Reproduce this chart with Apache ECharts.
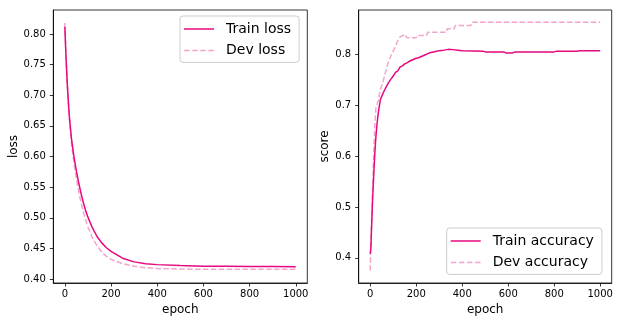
<!DOCTYPE html>
<html>
<head>
<meta charset="utf-8">
<script src="https://cdn.jsdelivr.net/npm/echarts@6/dist/echarts.min.js"></script>
<style>html,body{margin:0;padding:0;background:#fff;}#c{width:622px;height:323px;}</style>
</head>
<body>
<div id="c"></div>
<script>
// ---- data ----
const lossEpochs = [0,5,10,15,20,30,40,50,60,70,80,90,100,120,140,160,180,200,250,300,350,400,500,600,700,800,900,1000];
const trainLoss  = [0.812,0.762,0.722,0.690,0.663,0.625,0.598,0.576,0.557,0.540,0.525,0.512,0.501,0.483,0.469,0.459,0.451,0.445,0.434,0.428,0.425,0.4235,0.422,0.421,0.4207,0.4205,0.4203,0.4202];
const devLoss    = [0.818,0.765,0.722,0.688,0.660,0.617,0.588,0.564,0.543,0.525,0.510,0.497,0.485,0.467,0.454,0.444,0.437,0.432,0.425,0.421,0.4185,0.417,0.4163,0.416,0.416,0.416,0.416,0.416];

const trainAccEpochs = [0,3,6,10,15,20,25,30,35,40,45,50,60,70,80,90,100,110,120,130,140,150,160,170,180,190,200,210,220,230,240,250,260,270,280,290,300,320,340,360,380,400,450,490,500,580,590,620,630,800,810,900,910,1000];
const trainAcc       = [0.408,0.42,0.46,0.51,0.56,0.605,0.64,0.665,0.685,0.70,0.713,0.718,0.728,0.737,0.745,0.752,0.758,0.765,0.768,0.776,0.778,0.782,0.784,0.787,0.789,0.791,0.793,0.794,0.796,0.798,0.800,0.802,0.804,0.805,0.806,0.807,0.808,0.809,0.8105,0.810,0.809,0.808,0.8075,0.807,0.8055,0.8055,0.8035,0.8035,0.8055,0.8055,0.807,0.807,0.808,0.808];

const devAccEpochs = [0,2,5,10,15,20,25,35,43,55,65,75,87,98,109,120,130,152,158,200,205,245,250,330,335,365,370,438,442,1000];
const devAcc       = [0.375,0.41,0.46,0.53,0.60,0.66,0.695,0.71,0.73,0.745,0.763,0.78,0.795,0.805,0.815,0.828,0.835,0.840,0.8335,0.8335,0.838,0.838,0.844,0.844,0.851,0.851,0.8577,0.8577,0.8637,0.8637];

const xTicks = [0,200,400,600,800,1000];
const lossTicks = [0.40,0.45,0.50,0.55,0.60,0.65,0.70,0.75,0.80];
const accTicks = [0.4,0.5,0.6,0.7,0.8];

const TRAIN = '#e6097f';
const DEV = '#f4a5cb';
const FONT = 'DejaVu Sans';
const SOLID_ICON = 'path://M0,0h30v1.5h-30z';
const DASH_ICON = 'path://M0,0h5.5v1.5h-5.5z M8.1,0h5.5v1.5h-5.5z M16.2,0h5.5v1.5h-5.5z M24.3,0h5.5v1.5h-5.5z';

function pairs(xs, ys){ return xs.map((x,i)=>[x, ys[i]]); }

function xAx(gi){
  return {
    type:'value', gridIndex:gi, min:-50, max:1050,
    name:'epoch', nameLocation:'middle', nameGap:19,
    nameTextStyle:{fontFamily:FONT,fontSize:12,color:'#000'},
    axisLine:{show:true, onZero:false, lineStyle:{color:'#000',width:0.8}},
    splitLine:{show:false},
    axisTick:{show:true, inside:false, customValues:xTicks, length:3.5, lineStyle:{color:'#000',width:0.8}},
    axisLabel:{customValues:xTicks, margin:6, fontFamily:FONT, fontSize:10, color:'#000',
      formatter:v=>String(v)}
  };
}
function yAx(gi, min, max, ticks, dec, name, gap){
  return {
    type:'value', gridIndex:gi, min:min, max:max,
    name:name, nameLocation:'middle', nameGap:gap, nameRotate:90,
    nameTextStyle:{fontFamily:FONT,fontSize:12,color:'#000'},
    axisLine:{show:true, onZero:false, lineStyle:{color:'#000',width:0.8}},
    splitLine:{show:false},
    axisTick:{show:true, inside:false, customValues:ticks, length:3.5, lineStyle:{color:'#000',width:0.8}},
    axisLabel:{customValues:ticks, margin:7.5, fontFamily:FONT, fontSize:10, color:'#000',
      formatter:v=>v.toFixed(dec)}
  };
}
function legend(left, top, names, padR){
  return {
    left:left, top:top, orient:'vertical',
    data:[
      {name:names[0], icon:SOLID_ICON, itemStyle:{color:TRAIN}},
      {name:names[1], icon:DASH_ICON, itemStyle:{color:DEV}}
    ],
    itemWidth:30, itemHeight:1.5, itemGap:7.4,
    padding:[6,padR,5,4],
    backgroundColor:'#fff', borderColor:'#cccccc', borderWidth:1, borderRadius:3,
    textStyle:{fontFamily:FONT, fontSize:14, color:'#000', padding:[0,0,0,7]}
  };
}

const chart = echarts.init(document.getElementById('c'), null, {renderer:'canvas'});
chart.setOption({
  animation:false,
  backgroundColor:'#fff',
  grid:[
    {left:53.3, top:10, width:254, height:273, show:true, borderColor:'#000', borderWidth:0.8, backgroundColor:'transparent'},
    {left:358.7, top:10, width:253, height:273, show:true, borderColor:'#000', borderWidth:0.8, backgroundColor:'transparent'}
  ],
  xAxis:[xAx(0), xAx(1)],
  yAxis:[
    yAx(0, 0.3935, 0.8392, lossTicks, 2, 'loss', 33),
    yAx(1, 0.3506, 0.888, accTicks, 1, 'score', 28)
  ],
  legend:[
    legend(180, 16, ['Train loss','Dev loss'], 8),
    legend(446.7, 228, ['Train accuracy','Dev accuracy'], 8)
  ],
  series:[
    {name:'Train loss', type:'line', xAxisIndex:0, yAxisIndex:0, data:pairs(lossEpochs,trainLoss), symbol:'none', smooth:false,
      lineStyle:{color:TRAIN,width:1.5}, itemStyle:{color:TRAIN}, z:3},
    {name:'Dev loss', type:'line', xAxisIndex:0, yAxisIndex:0, data:pairs(lossEpochs,devLoss), symbol:'none',
      lineStyle:{color:DEV,width:1.5,type:[5.5,2.4]}, itemStyle:{color:DEV}, z:2},
    {name:'Train accuracy', type:'line', xAxisIndex:1, yAxisIndex:1, data:pairs(trainAccEpochs,trainAcc), symbol:'none',
      lineStyle:{color:TRAIN,width:1.5}, itemStyle:{color:TRAIN}, z:3},
    {name:'Dev accuracy', type:'line', xAxisIndex:1, yAxisIndex:1, data:pairs(devAccEpochs,devAcc), symbol:'none',
      lineStyle:{color:DEV,width:1.5,type:[5.5,2.4]}, itemStyle:{color:DEV}, z:2}
  ]
});
</script>
</body>
</html>
